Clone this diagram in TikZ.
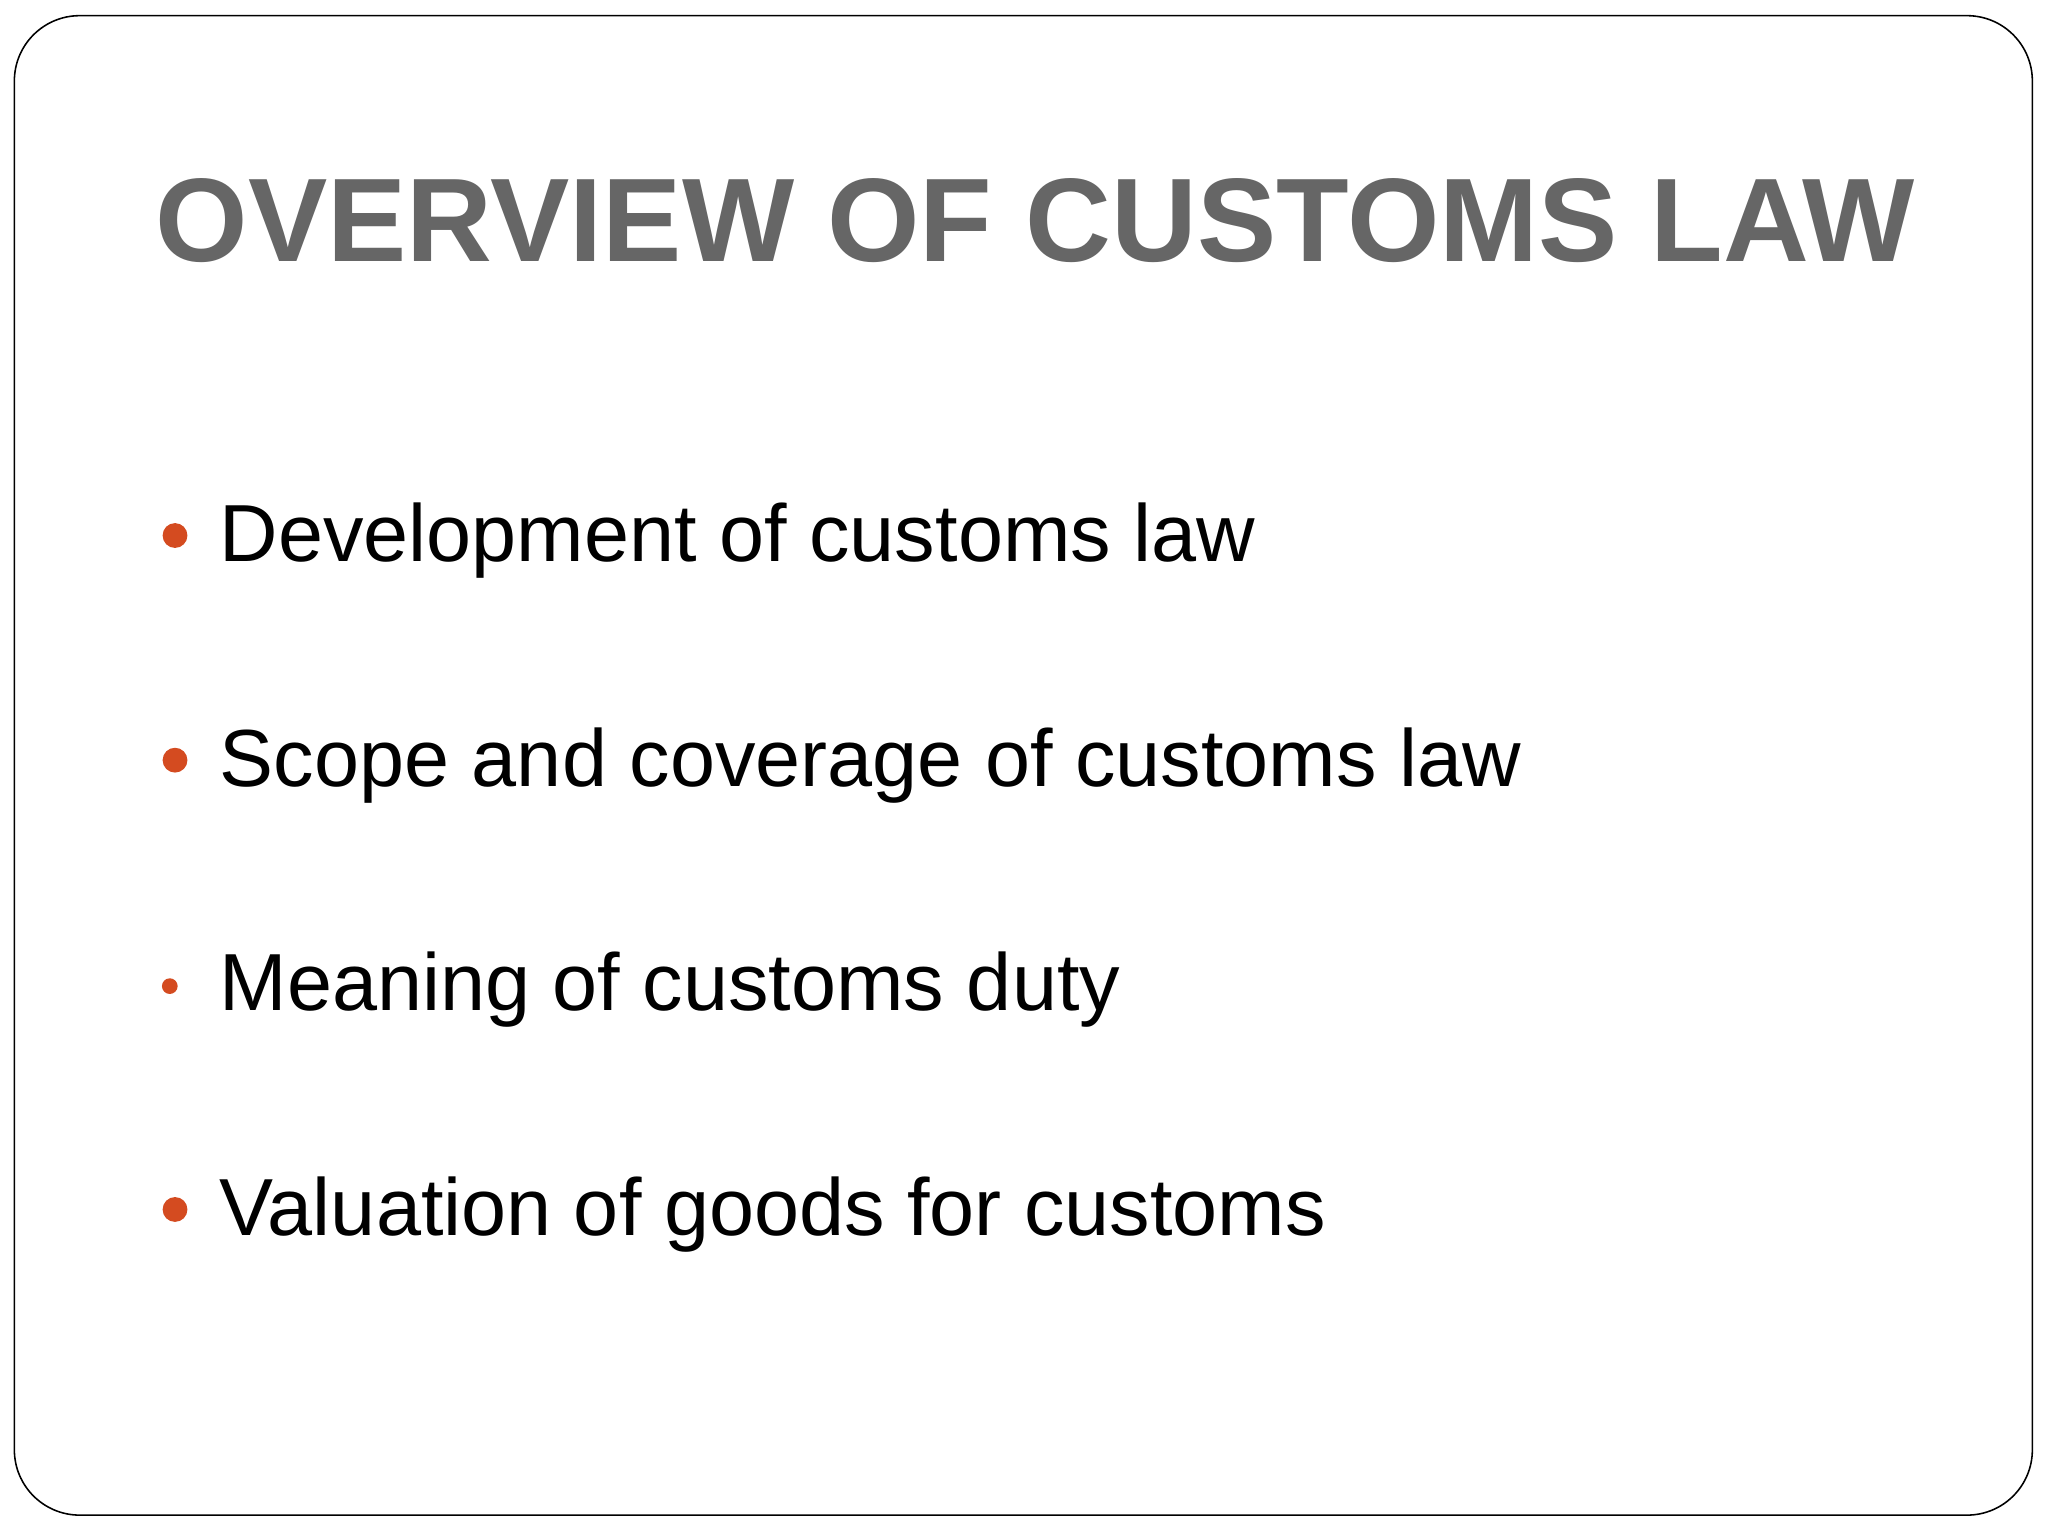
\documentclass[tikz,border=0pt]{standalone}
\usepackage{fontspec}
\setmainfont{Liberation Sans}
\definecolor{titlegray}{RGB}{102,102,102}
\definecolor{bulletred}{RGB}{212,75,32}
\tikzset{item/.style={anchor=base west,inner sep=0pt,font=\fontsize{31}{36}\selectfont},
bul/.style={fill=bulletred,draw=none}}
\begin{document}
\begin{tikzpicture}[x=0.5pt,y=-0.5pt]
\useasboundingbox (0,0) rectangle (1568,1176);
\fill[white] (0,0) rectangle (1568,1176);
\draw[line width=0.6pt,rounded corners=25pt] (11,12) rectangle (1556,1160);
\node[anchor=base west,inner sep=0pt,font=\fontsize{45.5}{50}\selectfont\bfseries,text=titlegray] (title) at (119,200) {OVERVIEW OF CUSTOMS LAW};
\node[item] (i1) at (168,430) {Development of customs law};
\node[item] (i2) at (168,602) {Scope and coverage of customs law};
\node[item] (i3) at (168,774) {Meaning of customs duty};
\node[item] (i4) at (168,946) {Valuation of goods for customs};
\fill[bul] (134,410) circle (9.5);
\fill[bul] (134,582) circle (9.5);
\fill[bul] (130,755) circle (6);
\fill[bul] (134,926) circle (9.5);
\end{tikzpicture}
\end{document}
